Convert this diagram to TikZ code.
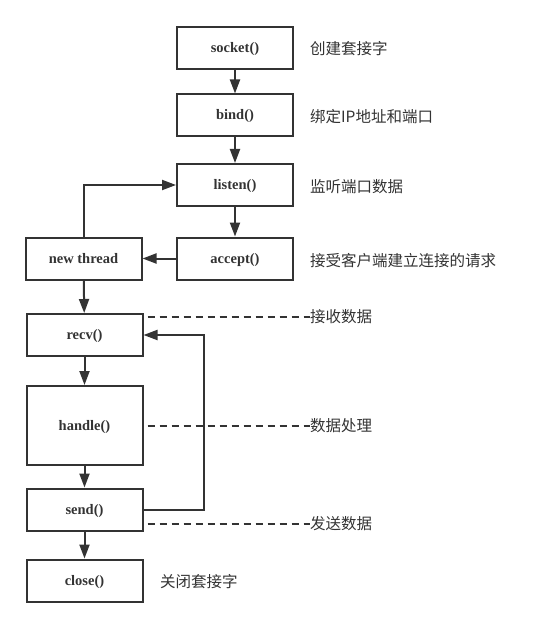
\documentclass[tikz,border=0pt]{standalone}
\usepackage{fontspec}
\setmainfont{Liberation Serif}
\newfontfamily\cjk{Noto Sans CJK SC}
\usetikzlibrary{arrows.meta}
\definecolor{ln}{HTML}{333333}
\begin{document}
\begin{tikzpicture}[x=1pt,y=-1pt,
  box/.style={draw=ln,line width=2pt,minimum width=116pt,minimum height=42pt,inner sep=0pt,text height=12pt,text depth=3pt,font=\fontsize{14.5}{16}\selectfont\bfseries,text=ln},
  lbl/.style={anchor=west,inner sep=0pt,font=\cjk\fontsize{15.5}{18}\selectfont,text=ln},
  arr/.style={draw=ln,line width=2pt,-{Triangle[length=14pt,width=10pt]}},
  dsh/.style={draw=ln,line width=1.6pt,dash pattern=on 7pt off 5pt}]
\useasboundingbox (0,0) rectangle (542,628);
\node[box] (socket) at (235,48) {socket()};
\node[box] (bind) at (235,115.5) {bind()};
\node[box] (listen) at (235,185) {listen()};
\node[box] (accept) at (235,258.5) {accept()};
\node[box] (thread) at (83.5,258.5) {new thread};
\node[box] (recv) at (84.5,335) {recv()};
\node[box,minimum height=79pt] (handle) at (84.5,425.5) {handle()};
\node[box] (send) at (84.5,509.5) {send()};
\node[box] (close) at (84.5,580.5) {close()};
\node[lbl] (l1) at (310,49) {创建套接字};
\node[lbl] (l2) at (310,117) {绑定IP地址和端口};
\node[lbl] (l3) at (310,187) {监听端口数据};
\node[lbl] (l4) at (310,261) {接受客户端建立连接的请求};
\node[lbl] (l5) at (310,317) {接收数据};
\node[lbl] (l6) at (310,426) {数据处理};
\node[lbl] (l7) at (310,524) {发送数据};
\node[lbl] (l8) at (160,582) {关闭套接字};
\draw[arr] (socket) -- (bind);
\draw[arr] (bind) -- (listen);
\draw[arr] (listen) -- (accept);
\draw[arr] (accept) -- (thread);
\draw[arr] (thread.north) |- (listen.west);
\draw[arr] (thread) -- (recv);
\draw[arr] (recv) -- (handle);
\draw[arr] (handle) -- (send);
\draw[arr] (send) -- (close);
\draw[arr] (send.east) -- ++(60,0) |- (recv.east);
\draw[dsh] ([xshift=4pt]recv.east |- l5.west) -- (l5.west);
\draw[dsh] ([xshift=4pt]handle.east |- l6.west) -- (l6.west);
\draw[dsh] ([xshift=4pt]send.east |- l7.west) -- (l7.west);
\end{tikzpicture}
\end{document}
